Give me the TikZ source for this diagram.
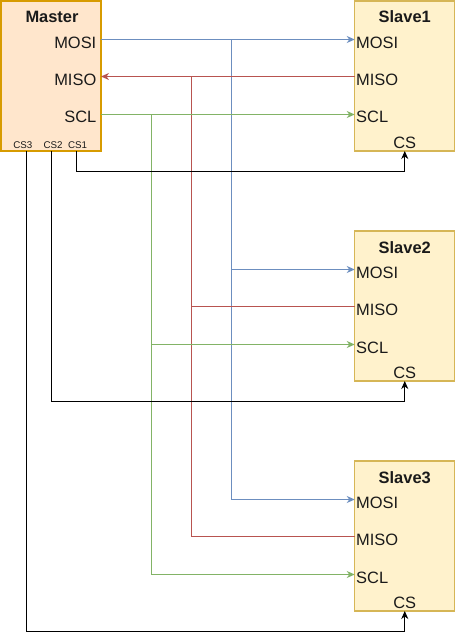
\documentclass[tikz,border=0pt]{standalone}
\usepackage{fontspec}
\setmainfont{Liberation Sans}
\usetikzlibrary{arrows.meta}
\definecolor{mfill}{HTML}{FFE6CC}
\definecolor{mdraw}{HTML}{D79B00}
\definecolor{sfill}{HTML}{FFF2CC}
\definecolor{sdraw}{HTML}{D6B656}
\definecolor{busblue}{HTML}{6C8EBF}
\definecolor{busred}{HTML}{B85450}
\definecolor{busgreen}{HTML}{82B366}
\definecolor{txt}{HTML}{1A1A1A}
\begin{document}
\begin{tikzpicture}[x=1bp,y=-1bp,
  mbox/.style={draw=mdraw,fill=mfill,line width=1.2bp,minimum width=100bp,minimum height=150bp,inner sep=0pt,outer sep=0pt},
  sbox/.style={draw=sdraw,fill=sfill,line width=1.2bp,minimum width=100bp,minimum height=150bp,inner sep=0pt,outer sep=0pt},
  title/.style={font=\fontsize{16.5}{18}\selectfont\bfseries,inner sep=0pt,anchor=base,text=txt},
  port/.style={font=\fontsize{16.5}{18}\selectfont,inner sep=0pt,text=txt},
  small/.style={font=\fontsize{9.8}{11}\selectfont,inner sep=0pt,anchor=base,text=txt},
  arr/.style={-{Stealth[length=8bp,width=7bp,inset=2.5bp]}},
  wire/.style={line width=1bp},
  bl/.style={wire,draw=busblue},
  rd/.style={wire,draw=busred},
  gr/.style={wire,draw=busgreen},
  bk/.style={wire,draw=black}]
\useasboundingbox (0,0) rectangle (456,641);

% Master
\node[mbox] (master) at (51,76) {};
\node[title] (mtitle) at (52,22.7) {Master};
\node[port,anchor=base east] (mmosi) at (96.5,48.3) {MOSI};
\node[port,anchor=base east] (mmiso) at (96.5,85.7) {MISO};
\node[port,anchor=base east] (mscl) at (96.5,123) {SCL};
\node[small] (mcs3) at (22.8,148.3) {CS3};
\node[small] (mcs2) at (53,148.3) {CS2};
\node[small] (mcs1) at (77.5,148.3) {CS1};
\coordinate (m-mosi) at (101,39.5);
\coordinate (m-miso) at (101,76.5);
\coordinate (m-scl) at (101,114.5);
\coordinate (m-cs1) at (76.5,151);
\coordinate (m-cs2) at (51.5,151);
\coordinate (m-cs3) at (26.5,151);

% Slaves
\foreach \i/\o in {1/0,2/230,3/460}{
  \node[sbox] (s\i) at (404.75,76+\o) {};
  \node[title] (s\i title) at (404.75,23+\o) {Slave\i};
  \node[port,anchor=base west] (s\i mosi) at (356,48.3+\o) {MOSI};
  \node[port,anchor=base west] (s\i miso) at (356,85.7+\o) {MISO};
  \node[port,anchor=base west] (s\i scl) at (356,123+\o) {SCL};
  \node[port,anchor=base] (s\i cs) at (404.75,148.3+\o) {CS};
  \coordinate (s\i-mosi) at (354.75,39.5+\o);
  \coordinate (s\i-miso) at (354.75,76.5+\o);
  \coordinate (s\i-scl) at (354.75,114.5+\o);
}

% bus x positions
\coordinate (bx) at (231.5,0);
\coordinate (rx) at (191.5,0);
\coordinate (gx) at (151.5,0);

% MOSI (blue)
\draw[bl,arr] (m-mosi) -- (s1-mosi);
\draw[bl,arr] (bx |- m-mosi) |- (s2-mosi);
\draw[bl,arr] (bx |- m-mosi) |- (s3-mosi);

% MISO (red)
\draw[rd,arr] (s1-miso) -- (m-miso);
\draw[rd] (s2-miso) -| (rx |- m-miso);
\draw[rd] (s3-miso) -| (rx |- m-miso);

% SCL (green)
\draw[gr,arr] (m-scl) -- (s1-scl);
\draw[gr,arr] (gx |- m-scl) |- (s2-scl);
\draw[gr,arr] (gx |- m-scl) |- (s3-scl);

% Chip selects
\draw[bk,arr] (m-cs1) -- (m-cs1 |- 0,171.5) -| (s1.south);
\draw[bk,arr] (m-cs2) -- (m-cs2 |- 0,401.5) -| (s2.south);
\draw[bk,arr] (m-cs3) -- (m-cs3 |- 0,631.5) -| (s3.south);
\end{tikzpicture}
\end{document}
